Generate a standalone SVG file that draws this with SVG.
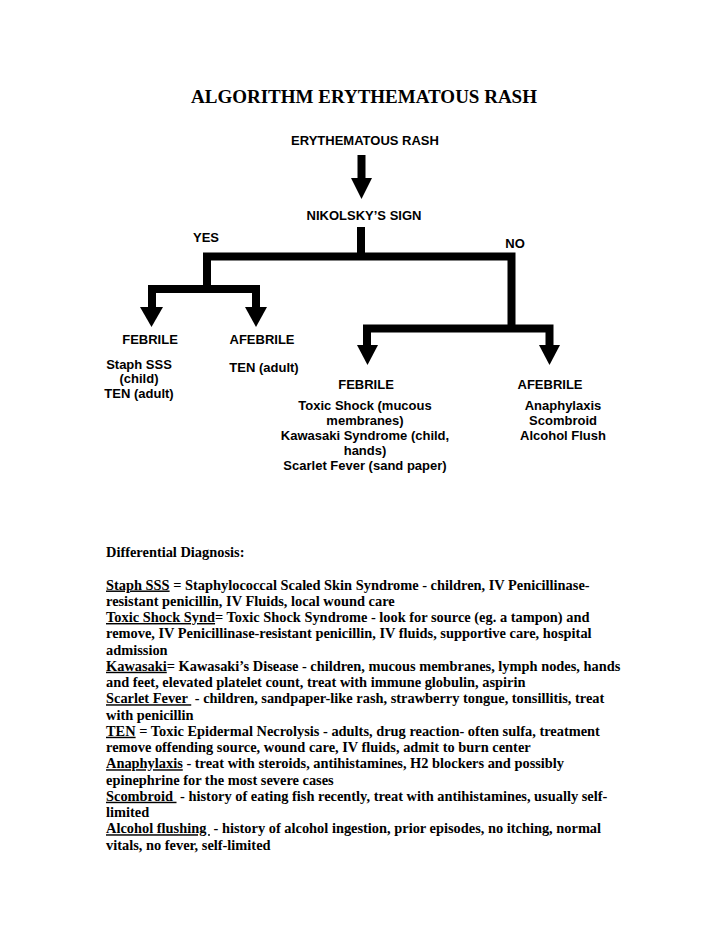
<svg xmlns="http://www.w3.org/2000/svg" width="728" height="943" viewBox="0 0 728 943">
<style>
.t{font-family:"Liberation Serif","Times New Roman",serif;font-weight:bold;fill:#000}
.title{font-size:19px}
.body{font-size:14.4px;white-space:pre}
.n{font-family:"Liberation Sans",Arial,sans-serif;font-weight:bold;font-size:13px;fill:#000;text-anchor:middle}
.u{text-decoration:underline}
.c{fill:none;stroke:#000;stroke-width:8;stroke-linejoin:miter;stroke-linecap:butt}
.h{fill:#000}
</style>
<rect width="728" height="943" fill="#fff"/>
<text class="t title" x="364" y="103" text-anchor="middle">ALGORITHM ERYTHEMATOUS RASH</text>

<g id="connectors">
<path class="c" d="M361.5,155 V179"/>
<polygon class="h" points="351,178 372,178 361.5,199"/>
<path class="c" d="M361,227 V256.5"/>
<path class="c" d="M207,289 V256.5 H511.5 V328.5"/>
<path class="c" d="M152,308 V289 H256 V308"/>
<polygon class="h" points="140,307 163,307 151.5,327"/>
<polygon class="h" points="245,307 267,307 256,327"/>
<path class="c" d="M367,346 V328.5 H549.5 V346"/>
<polygon class="h" points="357,345 378,345 367.5,365"/>
<polygon class="h" points="539,345 560,345 549.5,365"/>
</g>

<g id="node-rash"><text class="n" x="365" y="145">ERYTHEMATOUS RASH</text></g>
<g id="node-nikolsky"><text class="n" x="364" y="220">NIKOLSKY’S SIGN</text></g>
<g id="label-yes"><text class="n" x="206" y="242">YES</text></g>
<g id="label-no"><text class="n" x="515" y="248">NO</text></g>
<g id="node-yes-febrile">
<text class="n" x="150" y="344">FEBRILE</text>
<text class="n" x="139" y="369">Staph SSS</text>
<text class="n" x="139" y="383">(child)</text>
<text class="n" x="139" y="398">TEN (adult)</text>
</g>
<g id="node-yes-afebrile">
<text class="n" x="262" y="344">AFEBRILE</text>
<text class="n" x="264" y="372">TEN (adult)</text>
</g>
<g id="node-no-febrile">
<text class="n" x="366" y="389">FEBRILE</text>
<text class="n" x="365" y="410">Toxic Shock (mucous</text>
<text class="n" x="365" y="425">membranes)</text>
<text class="n" x="365" y="440">Kawasaki Syndrome (child,</text>
<text class="n" x="365" y="455">hands)</text>
<text class="n" x="365" y="470">Scarlet Fever (sand paper)</text>
</g>
<g id="node-no-afebrile">
<text class="n" x="550" y="389">AFEBRILE</text>
<text class="n" x="563" y="410">Anaphylaxis</text>
<text class="n" x="563" y="425">Scombroid</text>
<text class="n" x="563" y="440">Alcohol Flush</text>
</g>

<g id="differential">
<text class="t body" x="106" y="557">Differential Diagnosis:</text>
<text class="t body" x="106" y="589.5"><tspan class="u">Staph SSS</tspan> = Staphylococcal Scaled Skin Syndrome - children, IV Penicillinase-</text>
<text class="t body" x="106" y="605.75">resistant penicillin, IV Fluids, local wound care</text>
<text class="t body" x="106" y="622"><tspan class="u">Toxic Shock Synd</tspan>= Toxic Shock Syndrome - look for source (eg. a tampon) and</text>
<text class="t body" x="106" y="638.25">remove, IV Penicillinase-resistant penicillin, IV fluids, supportive care, hospital</text>
<text class="t body" x="106" y="654.5">admission</text>
<text class="t body" x="106" y="670.75"><tspan class="u">Kawasaki</tspan>= Kawasaki’s Disease - children, mucous membranes, lymph nodes, hands</text>
<text class="t body" x="106" y="687">and feet, elevated platelet count, treat with immune globulin, aspirin</text>
<text class="t body" x="106" y="703.25"><tspan class="u">Scarlet Fever </tspan> - children, sandpaper-like rash, strawberry tongue, tonsillitis, treat</text>
<text class="t body" x="106" y="719.5">with penicillin</text>
<text class="t body" x="106" y="735.75"><tspan class="u">TEN</tspan> = Toxic Epidermal Necrolysis - adults, drug reaction- often sulfa, treatment</text>
<text class="t body" x="106" y="752">remove offending source, wound care, IV fluids, admit to burn center</text>
<text class="t body" x="106" y="768.25"><tspan class="u">Anaphylaxis</tspan> - treat with steroids, antihistamines, H2 blockers and possibly</text>
<text class="t body" x="106" y="784.5">epinephrine for the most severe cases</text>
<text class="t body" x="106" y="800.75"><tspan class="u">Scombroid </tspan> - history of eating fish recently, treat with antihistamines, usually self-</text>
<text class="t body" x="106" y="817">limited</text>
<text class="t body" x="106" y="833.25"><tspan class="u">Alcohol flushing </tspan> - history of alcohol ingestion, prior episodes, no itching, normal</text>
<text class="t body" x="106" y="849.5">vitals, no fever, self-limited</text>
</g>
</svg>
